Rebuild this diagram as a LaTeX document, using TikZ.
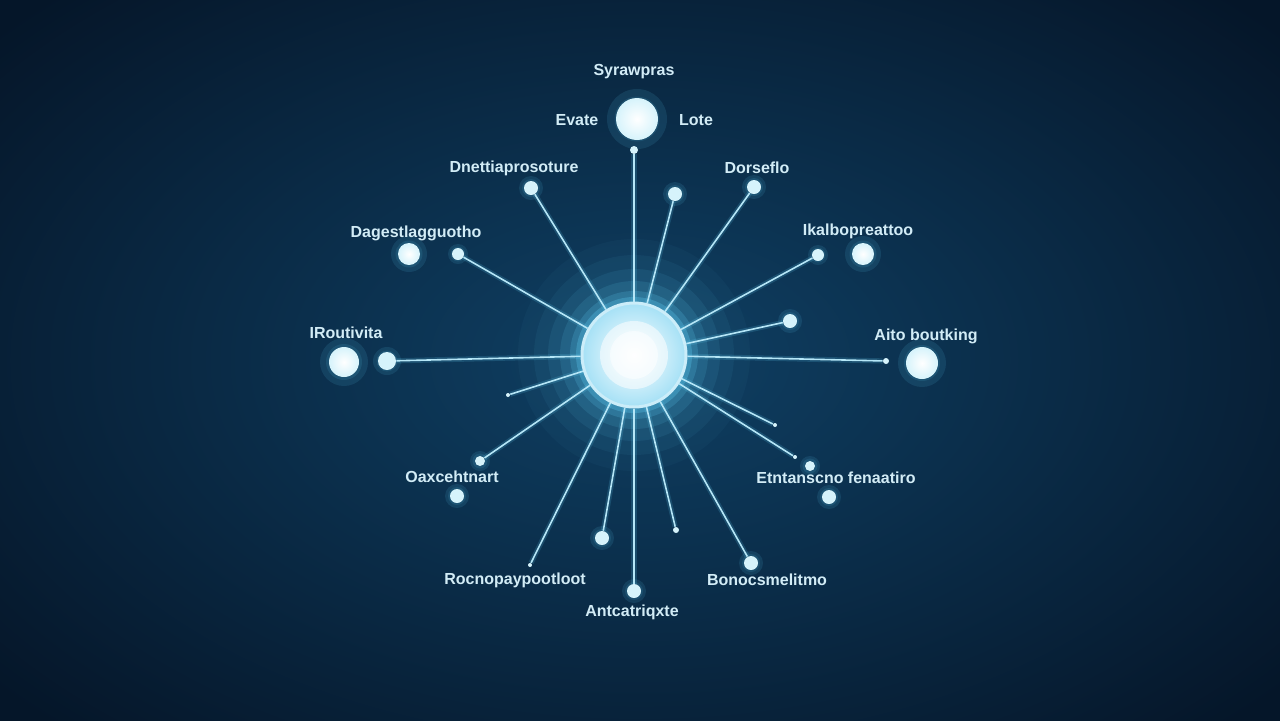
\documentclass[tikz,border=0pt]{standalone}
\usepackage{fontspec}
\setmainfont{Liberation Sans}
\definecolor{bgin}{HTML}{0F4064}
\definecolor{bgout}{HTML}{051629}
\definecolor{labc}{HTML}{D2ECF6}
\definecolor{dotc}{HTML}{D6F3FB}
\definecolor{glowc}{HTML}{5CC8EE}
\definecolor{linec}{HTML}{B5E6F7}
\pgfdeclarelayer{bg}
\pgfsetlayers{bg,main}
\begin{document}
\begin{tikzpicture}[x=0.5pt,y=-0.5pt,
  lbl/.style={text=labc, font=\fontsize{8}{9}\selectfont\bfseries, inner sep=0pt},
  dot/.style={circle, inner sep=0pt, minimum size=#1, fill=dotc},
  bigdot/.style={circle, inner sep=0pt, minimum size=#1, inner color=white, outer color=dotc},
  spoke/.style={draw=linec, line width=0.8pt,
    preaction={draw=glowc, line width=2.6pt, draw opacity=0.18}},
  tick/.style={circle, inner sep=0pt, minimum size=2pt, fill=dotc},
  glow/.style={fill=glowc, opacity=#1}]
\useasboundingbox (0,0) rectangle (1280,720);

% hub
\node[circle, minimum size=52pt, inner sep=0pt, inner color=white, outer color=glowc!55!white,
  draw=linec!70!white, line width=1.5pt] (hub) at (634,355) {};
\fill[white, opacity=0.55] (hub.center) circle (17pt);
\fill[white, opacity=0.5] (hub.center) circle (12pt);

% dots
\node[bigdot=21pt] (top) at (637,119) {};
\node[tick, minimum size=4pt] (d1) at (634,150) {};
\node[dot=7pt] (d2) at (675,194) {};
\node[dot=7pt] (d3) at (754,187) {};
\node[dot=7pt] (d4) at (531,188) {};
\node[dot=6pt] (d5) at (818,255) {};
\node[bigdot=11pt] (b5) at (863,254) {};
\node[dot=6pt] (d6) at (458,254) {};
\node[bigdot=11pt] (b6) at (409,254) {};
\node[dot=7pt] (d7) at (790,321) {};
\node[dot=9pt] (d8) at (387,361) {};
\node[bigdot=15pt] (b8) at (344,362) {};
\node[tick, minimum size=3pt] (e9) at (886,361) {};
\node[bigdot=16pt] (b9) at (922,363) {};
\node[tick] (e10) at (508,395) {};
\node[dot=5pt] (d11) at (480,461) {};
\node[dot=7pt] (d12) at (457,496) {};
\node[tick] (e13) at (795,457) {};
\node[dot=5pt] (d13) at (810,466) {};
\node[dot=7pt] (d14) at (829,497) {};
\node[tick] (e15) at (530,565) {};
\node[dot=7pt] (d16) at (602,538) {};
\node[dot=7pt] (d17) at (634,591) {};
\node[tick, minimum size=3pt] (e18) at (676,530) {};
\node[dot=7pt] (d19) at (751,563) {};
\node[tick] (e20) at (775,425) {};

\begin{pgfonlayer}{bg}
  \shade[inner color=bgin, outer color=bgout] (-200,-150) rectangle (1480,870);
  % hub glow
  \foreach \r/\o in {58/0.04,50/0.06,43/0.09,37/0.13,32/0.2,29/0.3}
    \fill[glow=\o] (hub.center) circle (\r pt);
  % dot glows
  \foreach \n/\r in {top/15,b5/9,b6/9,b8/12,b9/12,d2/6,d3/6,d4/6,d5/5,d6/5,d7/6,d8/7,d11/5,d12/6,d13/5,d14/6,d16/6,d17/6,d19/6}{
    \fill[glow=0.12] (\n.center) circle (\r pt);
    \fill[glow=0.12] (\n.center) circle (0.75*\r pt);
  }
  % spokes
  \foreach \t in {d1,d2,d3,d4,d5,d6,d7,d8,e9,e10,d11,e13,e15,d16,d17,e18,d19,e20}
    \draw[spoke] (hub) -- (\t);
\end{pgfonlayer}

% labels
\node[lbl] (l1) at (634,72) {Syrawpras};
\node[lbl] (l2) at (577,120) {Evate};
\node[lbl] (l3) at (696,120) {Lote};
\node[lbl] (l4) at (514,168) {Dnettiaprosoture};
\node[lbl] (l5) at (757,168) {Dorseflo};
\node[lbl] (l6) at (416,233) {Dagestlagguotho};
\node[lbl] (l7) at (858,231) {Ikalbopreattoo};
\node[lbl] (l8) at (346,333) {IRoutivita};
\node[lbl] (l9) at (926,336) {Aito boutking};
\node[lbl] (l10) at (452,477) {Oaxcehtnart};
\node[lbl] (l11) at (836,478) {Etntanscno fenaatiro};
\node[lbl] (l12) at (515,580) {Rocnopaypootloot};
\node[lbl] (l13) at (767,580) {Bonocsmelitmo};
\node[lbl] (l14) at (632,612) {Antcatriqxte};
\end{tikzpicture}
\end{document}
